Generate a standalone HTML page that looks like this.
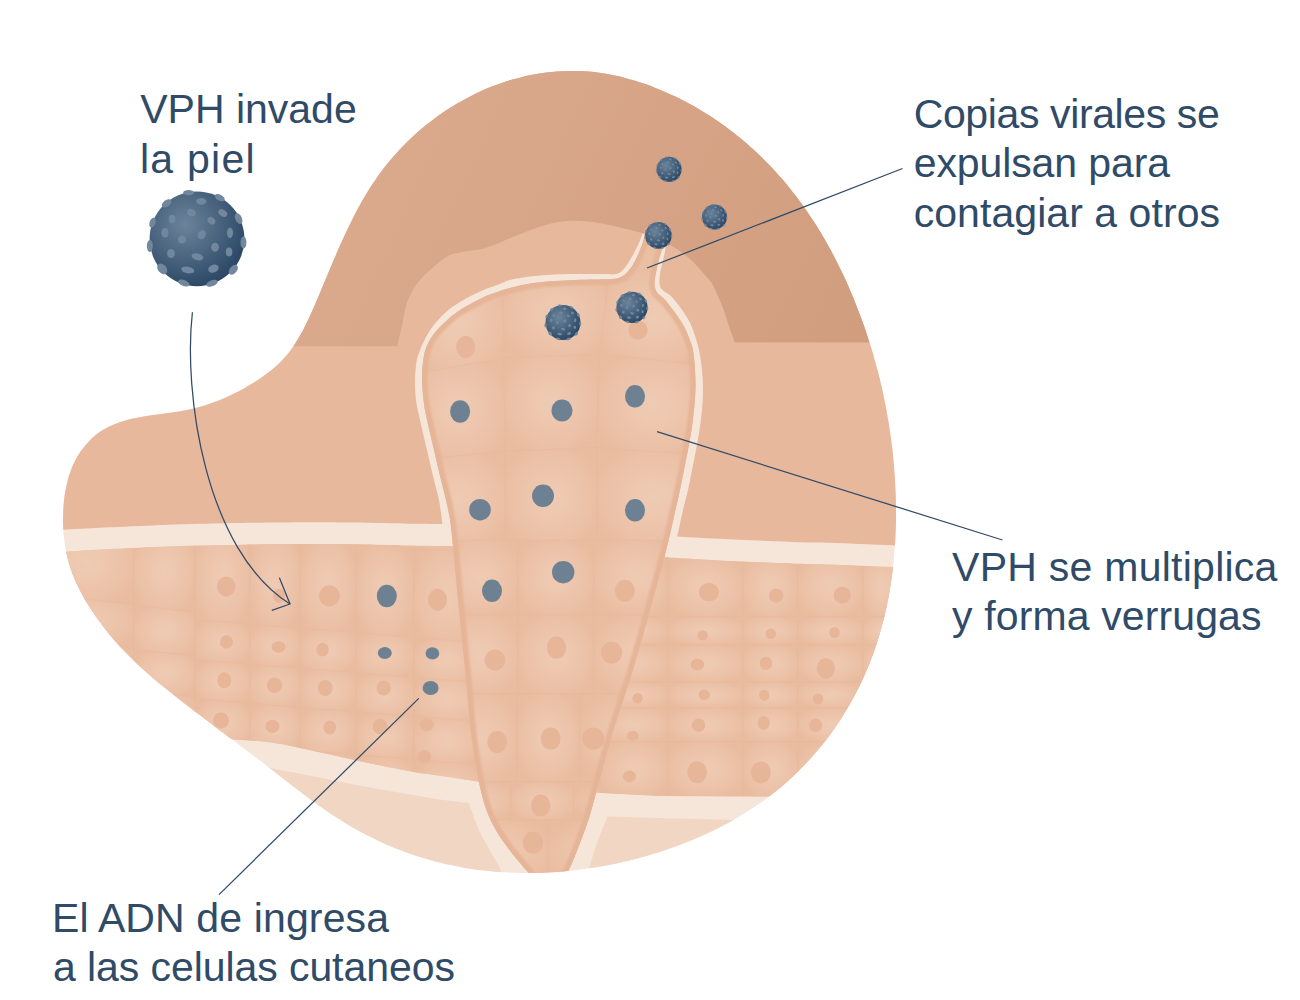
<!DOCTYPE html>
<html><head><meta charset="utf-8"><style>
html,body{margin:0;padding:0;background:#fff;}
svg{display:block;}
text{font-family:"Liberation Sans",sans-serif;font-size:41px;fill:#2F4B67;}
</style></head><body>
<svg width="1300" height="1000" viewBox="0 0 1300 1000">
<defs>
<clipPath id="blob"><path d="M500.4,83.4 C503.7,82.2 507.1,81.1 510.5,80.1 C513.8,79.1 517.2,78.2 520.7,77.4 C524.1,76.5 527.5,75.8 531,75.1 C534.4,74.4 537.9,73.8 541.4,73.3 C544.8,72.8 548.3,72.3 551.8,72 C555.3,71.6 558.8,71.4 562.3,71.2 C565.8,71.1 569.3,71 572.8,71 C576.3,71 579.9,71.1 583.4,71.3 C586.9,71.5 590.4,71.8 593.9,72.1 C597.3,72.5 600.8,73 604.3,73.5 C607.8,74.1 611.3,74.8 614.7,75.5 C618.2,76.2 621.6,77 625,77.9 C628.4,78.8 631.9,79.8 635.2,80.8 C638.6,81.9 642,83 645.3,84.1 C648.7,85.3 652,86.6 655.3,87.9 C658.6,89.2 661.9,90.5 665.1,91.9 C668.4,93.3 671.6,94.8 674.8,96.3 C678,97.9 681.1,99.4 684.3,101.1 C687.4,102.7 690.5,104.4 693.6,106.1 C696.7,107.9 699.7,109.6 702.7,111.5 C705.7,113.3 708.7,115.2 711.7,117.1 C714.6,119.1 717.5,121 720.4,123.1 C723.3,125.1 726.1,127.2 729,129.3 C731.8,131.4 734.6,133.6 737.3,135.8 C740.1,138 742.8,140.2 745.5,142.5 C748.1,144.8 750.8,147.1 753.4,149.5 C756,151.9 758.5,154.3 761.1,156.8 C763.6,159.2 766.1,161.7 768.6,164.2 C771,166.8 773.4,169.3 775.8,171.9 C778.2,174.5 780.5,177.2 782.8,179.8 C785.1,182.5 787.3,185.2 789.6,187.9 C791.8,190.7 793.9,193.4 796.1,196.2 C798.2,199 800.3,201.9 802.4,204.7 C804.4,207.6 806.4,210.5 808.4,213.4 C810.4,216.3 812.3,219.3 814.3,222.2 C816.2,225.2 818,228.2 819.9,231.2 C821.7,234.2 823.5,237.3 825.2,240.3 C827,243.4 828.7,246.5 830.4,249.6 C832.1,252.7 833.8,255.8 835.4,259 C837,262.1 838.6,265.3 840.1,268.5 C841.7,271.6 843.2,274.8 844.7,278.1 C846.2,281.3 847.6,284.5 849,287.7 C850.4,291 851.8,294.2 853.2,297.5 C854.5,300.8 855.8,304.1 857.1,307.4 C858.4,310.7 859.7,314 860.9,317.3 C862.1,320.6 863.3,323.9 864.5,327.2 C865.6,330.6 866.7,333.9 867.8,337.2 C868.9,340.6 870,344 871,347.3 C872.1,350.7 873.1,354.1 874,357.4 C875,360.8 875.9,364.2 876.8,367.6 C877.8,371 878.6,374.4 879.5,377.8 C880.3,381.2 881.1,384.7 881.9,388.1 C882.7,391.5 883.4,394.9 884.1,398.4 C884.9,401.8 885.5,405.3 886.2,408.7 C886.8,412.2 887.5,415.6 888,419.1 C888.6,422.6 889.2,426.1 889.7,429.5 C890.2,433 890.7,436.5 891.2,440 C891.6,443.5 892.1,447 892.5,450.5 C892.9,454 893.2,457.5 893.5,461 C893.9,464.5 894.2,468 894.4,471.6 C894.7,475.1 894.9,478.6 895.1,482.1 C895.3,485.7 895.5,489.2 895.6,492.8 C895.8,496.3 895.9,499.8 895.9,503.4 C896,506.9 896,510.5 896,514 C896,517.6 896,521.1 895.9,524.7 C895.8,528.2 895.7,531.7 895.5,535.3 C895.4,538.8 895.2,542.4 894.9,545.9 C894.7,549.4 894.4,553 894.1,556.5 C893.8,560 893.4,563.5 893,567.1 C892.6,570.6 892.2,574.1 891.7,577.6 C891.2,581.1 890.7,584.6 890.1,588 C889.5,591.5 888.9,595 888.3,598.5 C887.6,601.9 886.9,605.4 886.1,608.8 C885.4,612.3 884.6,615.7 883.7,619.1 C882.9,622.5 882,625.9 881,629.3 C880.1,632.7 879.1,636 878,639.4 C877,642.7 875.9,646.1 874.7,649.4 C873.6,652.7 872.4,656 871.1,659.3 C869.9,662.6 868.6,665.8 867.2,669.1 C865.8,672.3 864.4,675.5 862.9,678.7 C861.5,681.9 859.9,685.1 858.4,688.2 C856.8,691.4 855.1,694.5 853.5,697.6 C851.8,700.7 850,703.8 848.3,706.8 C846.5,709.9 844.6,712.9 842.8,715.9 C840.9,718.9 838.9,721.8 837,724.7 C835,727.7 832.9,730.6 830.9,733.4 C828.8,736.3 826.6,739.1 824.5,741.9 C822.3,744.6 820.1,747.4 817.8,750.1 C815.5,752.8 813.2,755.5 810.9,758.1 C808.5,760.7 806.1,763.3 803.7,765.8 C801.2,768.4 798.7,770.9 796.2,773.3 C793.7,775.8 791.1,778.2 788.5,780.6 C785.9,782.9 783.2,785.2 780.5,787.5 C777.8,789.8 775.1,792 772.3,794.1 C769.5,796.3 766.7,798.4 763.9,800.5 C761,802.6 758.1,804.6 755.2,806.6 C752.3,808.5 749.3,810.4 746.3,812.3 C743.3,814.2 740.3,816 737.3,817.8 C734.2,819.6 731.1,821.3 728,823 C724.9,824.7 721.8,826.4 718.7,828 C715.5,829.6 712.3,831.1 709.1,832.6 C705.9,834.1 702.7,835.6 699.4,837 C696.2,838.4 692.9,839.8 689.6,841.1 C686.4,842.5 683.1,843.8 679.7,845 C676.4,846.3 673.1,847.5 669.7,848.6 C666.4,849.8 663,850.9 659.7,852 C656.3,853.1 652.9,854.1 649.5,855.1 C646.1,856.1 642.7,857 639.3,858 C635.9,858.9 632.5,859.7 629.1,860.6 C625.7,861.4 622.2,862.2 618.8,863 C615.4,863.7 611.9,864.4 608.5,865.1 C605.1,865.8 601.6,866.4 598.1,867 C594.7,867.6 591.2,868.1 587.8,868.6 C584.3,869.1 580.8,869.6 577.3,870 C573.9,870.4 570.4,870.8 566.9,871.1 C563.4,871.4 559.9,871.7 556.4,872 C552.9,872.2 549.4,872.4 545.9,872.5 C542.4,872.7 538.8,872.8 535.3,872.9 C531.8,872.9 528.3,872.9 524.7,872.9 C521.2,872.9 517.7,872.8 514.1,872.7 C510.6,872.6 507,872.4 503.5,872.2 C500,871.9 496.4,871.7 492.9,871.4 C489.3,871.1 485.8,870.7 482.3,870.3 C478.8,869.9 475.2,869.4 471.7,868.9 C468.2,868.4 464.7,867.8 461.2,867.2 C457.7,866.5 454.2,865.9 450.8,865.1 C447.3,864.4 443.9,863.6 440.4,862.8 C437,862 433.6,861.1 430.2,860.1 C426.8,859.2 423.4,858.2 420,857.1 C416.7,856 413.3,854.9 410,853.8 C406.7,852.6 403.4,851.4 400.1,850.1 C396.8,848.9 393.6,847.5 390.3,846.2 C387.1,844.8 383.9,843.4 380.7,841.9 C377.5,840.4 374.3,838.9 371.2,837.3 C368,835.8 364.9,834.2 361.8,832.5 C358.7,830.8 355.6,829.1 352.6,827.4 C349.5,825.6 346.5,823.8 343.5,822 C340.5,820.1 337.6,818.2 334.6,816.3 C331.7,814.4 328.8,812.4 325.8,810.4 C322.9,808.4 320.1,806.4 317.2,804.3 C314.3,802.2 311.5,800.1 308.6,798 C305.8,795.9 303,793.8 300.2,791.7 C297.3,789.5 294.5,787.4 291.7,785.2 C288.9,783 286.1,780.9 283.4,778.7 C280.6,776.5 277.8,774.3 275,772.2 C272.2,770 269.4,767.8 266.6,765.7 C263.8,763.5 261,761.4 258.2,759.3 C255.4,757.1 252.6,755 249.8,752.9 C246.9,750.7 244.1,748.6 241.3,746.5 C238.5,744.4 235.7,742.2 232.9,740.1 C230.1,738 227.3,735.9 224.5,733.8 C221.6,731.6 218.8,729.5 216,727.4 C213.2,725.3 210.4,723.2 207.6,721 C204.8,718.9 202,716.8 199.2,714.6 C196.4,712.5 193.6,710.4 190.8,708.2 C188,706.1 185.2,703.9 182.4,701.7 C179.6,699.6 176.8,697.4 174.1,695.2 C171.3,693 168.5,690.8 165.8,688.6 C163.1,686.4 160.3,684.1 157.6,681.9 C154.9,679.6 152.2,677.3 149.6,675 C146.9,672.7 144.3,670.3 141.7,668 C139.1,665.6 136.5,663.2 134,660.7 C131.4,658.3 128.9,655.8 126.5,653.3 C124,650.8 121.6,648.3 119.2,645.7 C116.8,643.1 114.5,640.4 112.2,637.7 C109.9,635 107.7,632.3 105.5,629.5 C103.3,626.8 101.2,623.9 99.1,621.1 C97,618.2 95,615.3 93,612.3 C91,609.4 89.1,606.4 87.3,603.4 C85.4,600.4 83.6,597.3 82,594.2 C80.3,591.1 78.7,588 77.2,584.8 C75.7,581.6 74.3,578.4 73,575.2 C71.7,571.9 70.6,568.6 69.6,565.3 C68.5,562 67.6,558.6 66.9,555.2 C66.1,551.9 65.4,548.4 64.9,545 C64.3,541.5 63.9,538.1 63.6,534.6 C63.3,531.1 63.1,527.5 63,524 C62.9,520.4 63,516.9 63.1,513.3 C63.2,509.7 63.5,506.1 63.8,502.5 C64.2,498.9 64.6,495.2 65.2,491.7 C65.9,488.1 66.6,484.5 67.5,481.1 C68.4,477.6 69.4,474.1 70.7,470.8 C71.9,467.5 73.3,464.2 74.9,461.1 C76.5,457.9 78.2,454.9 80.2,452 C82.1,449.2 84.3,446.4 86.6,443.9 C88.8,441.3 91.3,438.9 93.9,436.6 C96.4,434.4 99.2,432.4 102,430.6 C104.9,428.7 107.9,427.1 110.9,425.7 C114,424.3 117.2,423.1 120.5,422 C123.7,420.9 127.1,420 130.5,419.1 C133.9,418.3 137.4,417.6 141,417 C144.5,416.3 148.1,415.8 151.7,415.3 C155.2,414.7 158.9,414.3 162.5,413.8 C166.1,413.3 169.7,412.8 173.3,412.3 C176.9,411.7 180.5,411.2 184,410.5 C187.5,409.9 191,409.2 194.4,408.3 C197.9,407.5 201.2,406.5 204.6,405.5 C207.9,404.5 211.2,403.3 214.4,402.1 C217.7,400.9 220.9,399.6 224.1,398.2 C227.3,396.8 230.4,395.3 233.6,393.8 C236.7,392.2 239.8,390.6 243,388.9 C246.1,387.2 249.2,385.4 252.2,383.5 C255.3,381.6 258.3,379.7 261.2,377.7 C264.2,375.6 267.1,373.5 269.9,371.3 C272.6,369.1 275.3,366.8 277.9,364.4 C280.4,362 282.9,359.4 285.2,356.8 C287.5,354.2 289.6,351.5 291.7,348.7 C293.7,345.9 295.6,343 297.4,340 C299.2,337.1 300.9,334 302.6,331 C304.2,327.9 305.8,324.7 307.3,321.6 C308.8,318.4 310.3,315.2 311.7,311.9 C313.2,308.7 314.6,305.5 316,302.2 C317.4,299 318.8,295.7 320.1,292.4 C321.5,289.2 322.9,285.9 324.3,282.6 C325.6,279.4 327,276.1 328.4,272.8 C329.7,269.6 331.1,266.3 332.5,263 C333.9,259.8 335.3,256.5 336.7,253.3 C338.1,250 339.5,246.8 340.9,243.6 C342.4,240.3 343.8,237.1 345.3,233.9 C346.8,230.7 348.3,227.5 349.9,224.4 C351.4,221.2 353,218.1 354.6,215 C356.2,211.8 357.9,208.7 359.5,205.7 C361.2,202.6 363,199.6 364.8,196.6 C366.5,193.5 368.4,190.6 370.3,187.6 C372.1,184.7 374.1,181.7 376.1,178.9 C378.1,176 380.1,173.1 382.3,170.3 C384.4,167.5 386.6,164.8 388.8,162.1 C391,159.3 393.3,156.7 395.7,154 C398.1,151.4 400.5,148.8 402.9,146.3 C405.4,143.7 407.9,141.2 410.5,138.8 C413.1,136.4 415.7,134 418.4,131.6 C421,129.3 423.8,127 426.5,124.8 C429.3,122.5 432.1,120.4 435,118.3 C437.8,116.1 440.7,114.1 443.7,112.1 C446.6,110.1 449.6,108.2 452.6,106.3 C455.6,104.4 458.7,102.6 461.8,100.9 C464.8,99.1 468,97.5 471.1,95.9 C474.3,94.3 477.5,92.7 480.7,91.3 C483.9,89.8 487.2,88.4 490.5,87.1 C493.7,85.8 497.1,84.6 500.4,83.4Z"/></clipPath>
<clipPath id="cone"><path d="M453,546 C451.7,532.7 451.2,527.7 450,520 C448.8,512.3 447.5,506.7 446,500 C444.5,493.3 443,488.3 441,480 C439,471.7 436.3,460 434,450 C431.7,440 428.8,428.3 427,420 C425.2,411.7 424.3,406.7 423.5,400 C422.7,393.3 422.1,386.3 422,380 C421.9,373.7 422.3,367.3 423,362 C423.7,356.7 424.3,352.5 426,348 C427.7,343.5 429.8,339.3 433,335 C436.2,330.7 440.5,326.2 445,322 C449.5,317.8 454.2,313.8 460,310 C465.8,306.2 475,301.6 480,299 C485,296.4 485,296.3 490,294.5 C495,292.7 503.3,289.8 510,288 C516.7,286.2 523.3,284.6 530,283.5 C536.7,282.4 543.3,281.8 550,281.2 C556.7,280.6 563.3,280.5 570,280.2 C576.7,279.9 583,279.8 590,279.6 C597,279.4 607,279.4 612,279 C617,278.6 617.5,278.6 620,277.5 C622.5,276.4 624.6,275.1 627,272.5 C629.4,269.9 632.2,265.9 634.4,262 C636.6,258.1 638.8,252.8 640.4,248.8 C642,244.8 643.1,241.5 644,238 C644.9,234.5 643.2,229.7 646,228 C648.8,226.3 658.3,224.7 661,228 C663.7,231.3 662.3,242.3 662,247.6 C661.7,252.9 660,255.4 659,259.6 C658,263.8 656.8,268.7 656,272.8 C655.2,276.9 654.3,280.7 654.5,284 C654.7,287.3 655.4,290 657,292.5 C658.6,295 661.6,296.1 664.4,299.2 C667.2,302.3 670.8,306.8 674,311.2 C677.2,315.6 681.1,321.1 683.6,325.6 C686.1,330.1 687.4,333.9 689,338 C690.6,342.1 692,344.7 693,350 C694,355.3 694.6,363.3 695,370 C695.4,376.7 695.7,383.3 695.5,390 C695.3,396.7 694.7,403.3 694,410 C693.3,416.7 692.5,423.3 691.5,430 C690.5,436.7 689.2,443.3 688,450 C686.8,456.7 685.3,463.3 684,470 C682.7,476.7 681.4,483.3 680,490 C678.6,496.7 677,503.3 675.5,510 C674,516.7 672.9,522.1 671,530 C669.1,537.9 667,547.2 664.4,557.2 C661.8,567.2 658.7,578.7 655.6,590 C652.5,601.3 649.8,611.7 646,625 C642.2,638.3 637.3,655.8 633,670 C628.7,684.2 624,697.4 620,710 C616,722.6 612.2,734.4 609,745.4 C605.8,756.4 603,767.6 600.8,775.8 C598.6,784 597.7,787.5 595.7,794.5 C593.7,801.5 591.5,810.1 589,818 C586.5,825.9 583.9,833 580.5,841.8 C577.1,850.6 572,864.2 568.6,870.6 C565.2,877 565.6,878.4 560,880 C554.4,881.6 540.3,881.3 535,880 C529.7,878.7 532,877 528,872.3 C524,867.6 516.4,859 511,852 C505.6,845 500,837.3 495.8,830 C491.6,822.7 488.5,815.9 485.7,808 C482.9,800.1 481,791.6 479,782.6 C477,773.6 475.4,764.2 473.8,753.8 C472.2,743.4 470.9,732.3 469.6,720 C468.3,707.7 467.3,693.3 466,680 C464.7,666.7 463.3,653.3 462,640 C460.7,626.7 459.5,615.7 458,600 C456.5,584.3 454.3,559.3 453,546Z"/></clipPath>
<linearGradient id="dg" x1="300" y1="80" x2="870" y2="345" gradientUnits="userSpaceOnUse">
<stop offset="0" stop-color="#DCAB8E"/><stop offset="1" stop-color="#D19D7F"/></linearGradient>
<radialGradient id="cg" cx="0.5" cy="0.5" r="0.6">
<stop offset="0" stop-color="#EFCBB4"/><stop offset="0.6" stop-color="#ECC3A9"/><stop offset="1" stop-color="#E9BB9F"/></radialGradient>
<radialGradient id="vg" cx="-0.25" cy="-0.3" r="1.35" gradientUnits="userSpaceOnUse">
<stop offset="0" stop-color="#6C849B"/><stop offset="1" stop-color="#2C4866"/></radialGradient>
<filter id="bl" x="-5%" y="-5%" width="110%" height="110%"><feGaussianBlur stdDeviation="1.2"/></filter>
<g id="virus"><circle cx="0" cy="0" r="1" fill="url(#vg)"/><ellipse cx="-0.177" cy="-0.975" rx="0.114" ry="0.057" transform="rotate(0 -0.177 -0.975)" fill="#70879D"/><ellipse cx="0.481" cy="-0.866" rx="0.114" ry="0.063" transform="rotate(30 0.481 -0.866)" fill="#70879D"/><ellipse cx="-0.641" cy="-0.747" rx="0.114" ry="0.070" transform="rotate(-35 -0.641 -0.747)" fill="#70879D"/><ellipse cx="0.878" cy="-0.425" rx="0.070" ry="0.120" transform="rotate(-25 0.878 -0.425)" fill="#70879D"/><ellipse cx="-0.937" cy="-0.342" rx="0.063" ry="0.108" transform="rotate(20 -0.937 -0.342)" fill="#70879D"/><ellipse cx="0.980" cy="0.076" rx="0.063" ry="0.127" transform="rotate(0 0.980 0.076)" fill="#70879D"/><ellipse cx="-0.995" cy="0.152" rx="0.063" ry="0.127" transform="rotate(0 -0.995 0.152)" fill="#70879D"/><ellipse cx="0.767" cy="0.653" rx="0.076" ry="0.120" transform="rotate(40 0.767 0.653)" fill="#70879D"/><ellipse cx="-0.734" cy="0.633" rx="0.089" ry="0.127" transform="rotate(-40 -0.734 0.633)" fill="#70879D"/><ellipse cx="0.316" cy="0.937" rx="0.127" ry="0.063" transform="rotate(-20 0.316 0.937)" fill="#70879D"/><ellipse cx="-0.278" cy="0.932" rx="0.127" ry="0.063" transform="rotate(20 -0.278 0.932)" fill="#70879D"/><ellipse cx="0.089" cy="-0.790" rx="0.108" ry="0.070" transform="rotate(0 0.089 -0.790)" fill="#70879D"/><ellipse cx="-0.119" cy="-0.552" rx="0.095" ry="0.076" transform="rotate(20 -0.119 -0.552)" fill="#70879D"/><ellipse cx="0.544" cy="-0.544" rx="0.101" ry="0.070" transform="rotate(30 0.544 -0.544)" fill="#70879D"/><ellipse cx="-0.524" cy="-0.418" rx="0.070" ry="0.089" transform="rotate(0 -0.524 -0.418)" fill="#70879D"/><ellipse cx="0.304" cy="-0.380" rx="0.089" ry="0.070" transform="rotate(40 0.304 -0.380)" fill="#70879D"/><ellipse cx="0.696" cy="-0.127" rx="0.063" ry="0.114" transform="rotate(0 0.696 -0.127)" fill="#70879D"/><ellipse cx="-0.676" cy="-0.127" rx="0.076" ry="0.101" transform="rotate(0 -0.676 -0.127)" fill="#70879D"/><ellipse cx="0.101" cy="-0.089" rx="0.082" ry="0.101" transform="rotate(30 0.101 -0.089)" fill="#70879D"/><ellipse cx="-0.316" cy="0.013" rx="0.082" ry="0.082" transform="rotate(0 -0.316 0.013)" fill="#70879D"/><ellipse cx="0.380" cy="0.177" rx="0.082" ry="0.095" transform="rotate(0 0.380 0.177)" fill="#70879D"/><ellipse cx="0.676" cy="0.278" rx="0.070" ry="0.095" transform="rotate(0 0.676 0.278)" fill="#70879D"/><ellipse cx="-0.549" cy="0.309" rx="0.082" ry="0.095" transform="rotate(0 -0.549 0.309)" fill="#70879D"/><ellipse cx="0.008" cy="0.380" rx="0.127" ry="0.070" transform="rotate(15 0.008 0.380)" fill="#70879D"/><ellipse cx="0.347" cy="0.628" rx="0.114" ry="0.082" transform="rotate(-20 0.347 0.628)" fill="#70879D"/><ellipse cx="-0.195" cy="0.658" rx="0.139" ry="0.070" transform="rotate(10 -0.195 0.658)" fill="#70879D"/></g>
</defs>
<g clip-path="url(#blob)">
<rect x="0" y="0" width="1000" height="1000" fill="#F6E6DA"/>
<path d="M0,740 L230,760 C236.7,761.3 255.2,765.1 270,768 C284.8,770.9 302.7,774.2 318.5,777.3 C334.3,780.4 349.2,783.6 364.6,786.5 C380,789.4 398.2,792.4 410.8,794.6 C423.4,796.8 430.3,798.1 440,799.5 C449.7,800.9 464,802.4 468.8,803 C470.5,807.5 475.3,821.8 479,830 C482.7,838.2 487.1,845.2 490.8,852 C494.5,858.8 498.5,864.3 501,870.6 C503.5,876.9 505.2,886.8 506,890 L506,1000 L0,1000Z" fill="#F1D7C3"/>
<path d="M607.5,816.5 L660,818 L735,820 L1000,822 L1000,1000 L585,1000 L585,885 C585.7,882.3 586.9,876.2 589,869 C591.1,861.8 594.3,850.5 597.4,841.8 C600.5,833 605.8,820.7 607.5,816.5Z" fill="#F1D7C3"/>
<clipPath id="cl"><path d="M0,554 L30,554 C35.8,553.6 53.3,552.5 65,551.8 C76.7,551 87.5,550.2 100,549.5 C112.5,548.8 123.3,548.4 140,547.7 C156.7,547.1 176.7,546.2 200,545.6 C223.3,545 256.7,544.4 280,544.1 C303.3,543.9 316.7,543.9 340,544.1 C363.3,544.4 401.2,545.3 420,545.6 C438.8,545.9 447.5,545.9 453,546 L664.4,557.2 C673.7,557.7 697.4,559.3 720,560.4 C742.6,561.5 781.7,563.1 800,563.8 C818.3,564.5 813.3,563.8 830,564.4 C846.7,565 871.7,566.3 900,567.2 C928.3,568.1 983.3,569.5 1000,570 L1000,797.5 L660,796 L595.7,792.8 L479,781.8 C472.5,780.8 451.4,777.5 440,775.8 C428.6,774.1 423.4,773.8 410.8,771.5 C398.2,769.2 380,765.5 364.6,762.3 C349.2,759 333.9,755.3 318.5,752 C303.1,748.7 286.9,744.8 272.3,742.7 C257.7,740.6 242.9,740.2 230.8,739.2 C218.8,738.2 205.1,737.4 200,737 L0,720Z"/></clipPath>
<g clip-path="url(#cl)">
<path d="M0,554 L30,554 C35.8,553.6 53.3,552.5 65,551.8 C76.7,551 87.5,550.2 100,549.5 C112.5,548.8 123.3,548.4 140,547.7 C156.7,547.1 176.7,546.2 200,545.6 C223.3,545 256.7,544.4 280,544.1 C303.3,543.9 316.7,543.9 340,544.1 C363.3,544.4 401.2,545.3 420,545.6 C438.8,545.9 447.5,545.9 453,546 L664.4,557.2 C673.7,557.7 697.4,559.3 720,560.4 C742.6,561.5 781.7,563.1 800,563.8 C818.3,564.5 813.3,563.8 830,564.4 C846.7,565 871.7,566.3 900,567.2 C928.3,568.1 983.3,569.5 1000,570 L1000,797.5 L660,796 L595.7,792.8 L479,781.8 C472.5,780.8 451.4,777.5 440,775.8 C428.6,774.1 423.4,773.8 410.8,771.5 C398.2,769.2 380,765.5 364.6,762.3 C349.2,759 333.9,755.3 318.5,752 C303.1,748.7 286.9,744.8 272.3,742.7 C257.7,740.6 242.9,740.2 230.8,739.2 C218.8,738.2 205.1,737.4 200,737 L0,720Z" fill="#EBBFA4"/>
<path d="M40,518.8 L134,530.1 L134,605.1 L40,593.8Z" fill="url(#cg)" stroke="#E8B99D" stroke-width="1" stroke-opacity="0.4"/><path d="M40,593.8 L134,605.1 L134,649.1 L40,637.8Z" fill="url(#cg)" stroke="#E8B99D" stroke-width="1" stroke-opacity="0.4"/><path d="M40,637.8 L134,649.1 L134,690.1 L40,678.8Z" fill="url(#cg)" stroke="#E8B99D" stroke-width="1" stroke-opacity="0.4"/><path d="M40,678.8 L134,690.1 L134,733.1 L40,721.8Z" fill="url(#cg)" stroke="#E8B99D" stroke-width="1" stroke-opacity="0.4"/><path d="M40,721.8 L134,733.1 L134,800.1 L40,788.8Z" fill="url(#cg)" stroke="#E8B99D" stroke-width="1" stroke-opacity="0.4"/><path d="M134,530.1 L195,537.4 L195,612.4 L134,605.1Z" fill="url(#cg)" stroke="#E8B99D" stroke-width="1" stroke-opacity="0.4"/><path d="M134,605.1 L195,612.4 L195,656.4 L134,649.1Z" fill="url(#cg)" stroke="#E8B99D" stroke-width="1" stroke-opacity="0.4"/><path d="M134,649.1 L195,656.4 L195,697.4 L134,690.1Z" fill="url(#cg)" stroke="#E8B99D" stroke-width="1" stroke-opacity="0.4"/><path d="M134,690.1 L195,697.4 L195,740.4 L134,733.1Z" fill="url(#cg)" stroke="#E8B99D" stroke-width="1" stroke-opacity="0.4"/><path d="M134,733.1 L195,740.4 L195,807.4 L134,800.1Z" fill="url(#cg)" stroke="#E8B99D" stroke-width="1" stroke-opacity="0.4"/><path d="M195,530 L250,534.4 L250,624.4 L195,620Z" fill="url(#cg)" stroke="#E8B99D" stroke-width="1" stroke-opacity="0.4"/><path d="M195,620 L250,624.4 L250,664.4 L195,660Z" fill="url(#cg)" stroke="#E8B99D" stroke-width="1" stroke-opacity="0.4"/><path d="M195,660 L250,664.4 L250,703.4 L195,699Z" fill="url(#cg)" stroke="#E8B99D" stroke-width="1" stroke-opacity="0.4"/><path d="M195,699 L250,703.4 L250,746.4 L195,742Z" fill="url(#cg)" stroke="#E8B99D" stroke-width="1" stroke-opacity="0.4"/><path d="M195,742 L250,746.4 L250,804.4 L195,800Z" fill="url(#cg)" stroke="#E8B99D" stroke-width="1" stroke-opacity="0.4"/><path d="M250,534.4 L300,538.4 L300,628.4 L250,624.4Z" fill="url(#cg)" stroke="#E8B99D" stroke-width="1" stroke-opacity="0.4"/><path d="M250,624.4 L300,628.4 L300,668.4 L250,664.4Z" fill="url(#cg)" stroke="#E8B99D" stroke-width="1" stroke-opacity="0.4"/><path d="M250,664.4 L300,668.4 L300,707.4 L250,703.4Z" fill="url(#cg)" stroke="#E8B99D" stroke-width="1" stroke-opacity="0.4"/><path d="M250,703.4 L300,707.4 L300,750.4 L250,746.4Z" fill="url(#cg)" stroke="#E8B99D" stroke-width="1" stroke-opacity="0.4"/><path d="M250,746.4 L300,750.4 L300,808.4 L250,804.4Z" fill="url(#cg)" stroke="#E8B99D" stroke-width="1" stroke-opacity="0.4"/><path d="M300,538.4 L356,542.9 L356,632.9 L300,628.4Z" fill="url(#cg)" stroke="#E8B99D" stroke-width="1" stroke-opacity="0.4"/><path d="M300,628.4 L356,632.9 L356,672.9 L300,668.4Z" fill="url(#cg)" stroke="#E8B99D" stroke-width="1" stroke-opacity="0.4"/><path d="M300,668.4 L356,672.9 L356,711.9 L300,707.4Z" fill="url(#cg)" stroke="#E8B99D" stroke-width="1" stroke-opacity="0.4"/><path d="M300,707.4 L356,711.9 L356,754.9 L300,750.4Z" fill="url(#cg)" stroke="#E8B99D" stroke-width="1" stroke-opacity="0.4"/><path d="M300,750.4 L356,754.9 L356,812.9 L300,808.4Z" fill="url(#cg)" stroke="#E8B99D" stroke-width="1" stroke-opacity="0.4"/><path d="M356,542.9 L414,547.5 L414,637.5 L356,632.9Z" fill="url(#cg)" stroke="#E8B99D" stroke-width="1" stroke-opacity="0.4"/><path d="M356,632.9 L414,637.5 L414,677.5 L356,672.9Z" fill="url(#cg)" stroke="#E8B99D" stroke-width="1" stroke-opacity="0.4"/><path d="M356,672.9 L414,677.5 L414,716.5 L356,711.9Z" fill="url(#cg)" stroke="#E8B99D" stroke-width="1" stroke-opacity="0.4"/><path d="M356,711.9 L414,716.5 L414,759.5 L356,754.9Z" fill="url(#cg)" stroke="#E8B99D" stroke-width="1" stroke-opacity="0.4"/><path d="M356,754.9 L414,759.5 L414,817.5 L356,812.9Z" fill="url(#cg)" stroke="#E8B99D" stroke-width="1" stroke-opacity="0.4"/><path d="M414,547.5 L480,552.8 L480,642.8 L414,637.5Z" fill="url(#cg)" stroke="#E8B99D" stroke-width="1" stroke-opacity="0.4"/><path d="M414,637.5 L480,642.8 L480,682.8 L414,677.5Z" fill="url(#cg)" stroke="#E8B99D" stroke-width="1" stroke-opacity="0.4"/><path d="M414,677.5 L480,682.8 L480,721.8 L414,716.5Z" fill="url(#cg)" stroke="#E8B99D" stroke-width="1" stroke-opacity="0.4"/><path d="M414,716.5 L480,721.8 L480,764.8 L414,759.5Z" fill="url(#cg)" stroke="#E8B99D" stroke-width="1" stroke-opacity="0.4"/><path d="M414,759.5 L480,764.8 L480,822.8 L414,817.5Z" fill="url(#cg)" stroke="#E8B99D" stroke-width="1" stroke-opacity="0.4"/><rect x="600" y="557" width="68" height="60" fill="url(#cg)" stroke="#E8B99D" stroke-width="1" stroke-opacity="0.4"/><rect x="668" y="557" width="75" height="60" fill="url(#cg)" stroke="#E8B99D" stroke-width="1" stroke-opacity="0.4"/><rect x="743" y="557" width="55" height="60" fill="url(#cg)" stroke="#E8B99D" stroke-width="1" stroke-opacity="0.4"/><rect x="798" y="557" width="65" height="60" fill="url(#cg)" stroke="#E8B99D" stroke-width="1" stroke-opacity="0.4"/><rect x="863" y="557" width="37" height="60" fill="url(#cg)" stroke="#E8B99D" stroke-width="1" stroke-opacity="0.4"/><rect x="600" y="617" width="68" height="28" fill="url(#cg)" stroke="#E8B99D" stroke-width="1" stroke-opacity="0.4"/><rect x="668" y="617" width="75" height="28" fill="url(#cg)" stroke="#E8B99D" stroke-width="1" stroke-opacity="0.4"/><rect x="743" y="617" width="55" height="28" fill="url(#cg)" stroke="#E8B99D" stroke-width="1" stroke-opacity="0.4"/><rect x="798" y="617" width="65" height="28" fill="url(#cg)" stroke="#E8B99D" stroke-width="1" stroke-opacity="0.4"/><rect x="863" y="617" width="37" height="28" fill="url(#cg)" stroke="#E8B99D" stroke-width="1" stroke-opacity="0.4"/><rect x="600" y="645" width="68" height="37" fill="url(#cg)" stroke="#E8B99D" stroke-width="1" stroke-opacity="0.4"/><rect x="668" y="645" width="75" height="37" fill="url(#cg)" stroke="#E8B99D" stroke-width="1" stroke-opacity="0.4"/><rect x="743" y="645" width="55" height="37" fill="url(#cg)" stroke="#E8B99D" stroke-width="1" stroke-opacity="0.4"/><rect x="798" y="645" width="65" height="37" fill="url(#cg)" stroke="#E8B99D" stroke-width="1" stroke-opacity="0.4"/><rect x="863" y="645" width="37" height="37" fill="url(#cg)" stroke="#E8B99D" stroke-width="1" stroke-opacity="0.4"/><rect x="600" y="682" width="68" height="26" fill="url(#cg)" stroke="#E8B99D" stroke-width="1" stroke-opacity="0.4"/><rect x="668" y="682" width="75" height="26" fill="url(#cg)" stroke="#E8B99D" stroke-width="1" stroke-opacity="0.4"/><rect x="743" y="682" width="55" height="26" fill="url(#cg)" stroke="#E8B99D" stroke-width="1" stroke-opacity="0.4"/><rect x="798" y="682" width="65" height="26" fill="url(#cg)" stroke="#E8B99D" stroke-width="1" stroke-opacity="0.4"/><rect x="863" y="682" width="37" height="26" fill="url(#cg)" stroke="#E8B99D" stroke-width="1" stroke-opacity="0.4"/><rect x="600" y="708" width="68" height="34" fill="url(#cg)" stroke="#E8B99D" stroke-width="1" stroke-opacity="0.4"/><rect x="668" y="708" width="75" height="34" fill="url(#cg)" stroke="#E8B99D" stroke-width="1" stroke-opacity="0.4"/><rect x="743" y="708" width="55" height="34" fill="url(#cg)" stroke="#E8B99D" stroke-width="1" stroke-opacity="0.4"/><rect x="798" y="708" width="65" height="34" fill="url(#cg)" stroke="#E8B99D" stroke-width="1" stroke-opacity="0.4"/><rect x="863" y="708" width="37" height="34" fill="url(#cg)" stroke="#E8B99D" stroke-width="1" stroke-opacity="0.4"/><rect x="600" y="742" width="68" height="55" fill="url(#cg)" stroke="#E8B99D" stroke-width="1" stroke-opacity="0.4"/><rect x="668" y="742" width="75" height="55" fill="url(#cg)" stroke="#E8B99D" stroke-width="1" stroke-opacity="0.4"/><rect x="743" y="742" width="55" height="55" fill="url(#cg)" stroke="#E8B99D" stroke-width="1" stroke-opacity="0.4"/><rect x="798" y="742" width="65" height="55" fill="url(#cg)" stroke="#E8B99D" stroke-width="1" stroke-opacity="0.4"/><rect x="863" y="742" width="37" height="55" fill="url(#cg)" stroke="#E8B99D" stroke-width="1" stroke-opacity="0.4"/>
</g>
<path d="M0,532 L30,532 C35.5,531.6 51.3,530.5 63,529.8 C74.7,529.1 87.2,528.4 100,527.8 C112.8,527.2 123.3,526.7 140,526 C156.7,525.3 176.7,524.4 200,523.8 C223.3,523.2 256.7,522.7 280,522.5 C303.3,522.3 316.7,522.2 340,522.4 C363.3,522.6 402.9,523.5 420,523.8 C437.1,524.1 438.8,524 442.5,524 C441.9,520 440.4,507.3 439,500 C437.6,492.7 436,488.3 434,480 C432,471.7 429.3,460 427,450 C424.7,440 421.8,428.3 420,420 C418.2,411.7 416.8,406.7 416,400 C415.2,393.3 414.9,386.3 415,380 C415.1,373.7 415.8,366.5 416.5,362 C417.2,357.5 417.6,356.8 419,353 C420.4,349.2 422.7,343.5 425,339 C427.3,334.5 429.7,330.3 433,326 C436.3,321.7 440.5,317 445,313 C449.5,309 454.2,305.6 460,302 C465.8,298.4 473.3,294.5 480,291.5 C486.7,288.5 495,285.9 500,284 C505,282.1 505,281.2 510,280 C515,278.8 523.3,277.4 530,276.5 C536.7,275.6 543.3,275.2 550,274.8 C556.7,274.4 563.3,274.1 570,274 C576.7,273.9 583,273.9 590,274 C597,274.1 608.3,274.3 612,274.4 C613,274.2 616.2,274.2 618,273.5 C619.8,272.8 621.1,272.1 623,270 C624.9,267.9 627.3,264.5 629.6,260.8 C631.9,257.1 634.9,251.4 636.8,247.6 C638.7,243.8 640,240.6 641,238 C642,235.4 642.7,233 643,232 L666,232 C665.9,234.6 666.1,243 665.6,247.6 C665.1,252.2 664.1,255.4 663.2,259.6 C662.3,263.8 660.8,268.9 660.2,272.8 C659.6,276.7 659.2,280.2 659.5,283 C659.8,285.8 660,287.3 662,289.6 C664,291.9 668.4,293.6 671.6,296.8 C674.8,300 678.2,304.6 681.2,308.8 C684.2,313 687.5,318 689.6,322 C691.7,326 692.4,328.3 694,333 C695.6,337.7 697.7,343.8 699,350 C700.3,356.2 701.3,363.3 702,370 C702.7,376.7 703,383.3 703,390 C703,396.7 702.6,403.3 702,410 C701.4,416.7 700.5,423.3 699.5,430 C698.5,436.7 697.2,443.3 696,450 C694.8,456.7 693.3,463.3 692,470 C690.7,476.7 689.5,483.3 688,490 C686.5,496.7 684.8,502.3 683,510 C681.2,517.7 678.2,532 677.2,536.4 C684.3,536.8 699.5,537.8 720,538.8 C740.5,539.8 781.7,541.5 800,542.2 C818.3,542.9 813.3,542.2 830,542.8 C846.7,543.4 871.7,544.6 900,545.6 C928.3,546.6 983.3,548.4 1000,549 L1000,0 L0,0Z" fill="#E8B89C"/>
<path d="M0,0 L1000,0 L1000,342.4 L734.7,342.4 C734.2,340.9 732.7,337.3 731.4,333.6 C730.1,329.9 728.5,324.4 727,320 C725.5,315.6 724.3,311.3 722.6,307 C720.9,302.7 718.8,298 717,294 C715.2,290 713.8,286.3 711.6,283 C709.4,279.7 707.3,277.7 704,274 C700.7,270.3 696,264.6 692,260.8 C688,257 684,254 680,251.2 C676,248.4 673,246.5 668,244 C663,241.5 655,238 650,236 C645,234 644,233.7 638,232 C632,230.3 622,227.7 614,226 C606,224.3 597.7,222.6 590,221.8 C582.3,221 575.2,220.6 568,221 C560.8,221.4 553.7,222.8 547,224.5 C540.3,226.2 534.5,228.6 528,231 C521.5,233.4 514.3,236.4 508,239 C501.7,241.6 495.5,244.7 490,246.5 C484.5,248.3 479.8,249.2 475,250.1 C470.2,251 465.7,251.1 461,252.2 C456.3,253.2 452.2,253.4 447,256.4 C441.8,259.4 434.5,266.1 430,270 C425.5,273.9 422.8,276.7 420,280 C417.2,283.3 415,286.7 413,290 C411,293.3 409.3,296.7 408,300 C406.7,303.3 406,305.8 405,310 C404,314.2 403,321 402.2,325 C401.4,329 400.8,330.4 400,334 C399.2,337.6 397.8,344.2 397.3,346.3 L0,346.3Z" fill="url(#dg)"/>
<g clip-path="url(#cone)">
<path d="M453,546 C451.7,532.7 451.2,527.7 450,520 C448.8,512.3 447.5,506.7 446,500 C444.5,493.3 443,488.3 441,480 C439,471.7 436.3,460 434,450 C431.7,440 428.8,428.3 427,420 C425.2,411.7 424.3,406.7 423.5,400 C422.7,393.3 422.1,386.3 422,380 C421.9,373.7 422.3,367.3 423,362 C423.7,356.7 424.3,352.5 426,348 C427.7,343.5 429.8,339.3 433,335 C436.2,330.7 440.5,326.2 445,322 C449.5,317.8 454.2,313.8 460,310 C465.8,306.2 475,301.6 480,299 C485,296.4 485,296.3 490,294.5 C495,292.7 503.3,289.8 510,288 C516.7,286.2 523.3,284.6 530,283.5 C536.7,282.4 543.3,281.8 550,281.2 C556.7,280.6 563.3,280.5 570,280.2 C576.7,279.9 583,279.8 590,279.6 C597,279.4 607,279.4 612,279 C617,278.6 617.5,278.6 620,277.5 C622.5,276.4 624.6,275.1 627,272.5 C629.4,269.9 632.2,265.9 634.4,262 C636.6,258.1 638.8,252.8 640.4,248.8 C642,244.8 643.1,241.5 644,238 C644.9,234.5 643.2,229.7 646,228 C648.8,226.3 658.3,224.7 661,228 C663.7,231.3 662.3,242.3 662,247.6 C661.7,252.9 660,255.4 659,259.6 C658,263.8 656.8,268.7 656,272.8 C655.2,276.9 654.3,280.7 654.5,284 C654.7,287.3 655.4,290 657,292.5 C658.6,295 661.6,296.1 664.4,299.2 C667.2,302.3 670.8,306.8 674,311.2 C677.2,315.6 681.1,321.1 683.6,325.6 C686.1,330.1 687.4,333.9 689,338 C690.6,342.1 692,344.7 693,350 C694,355.3 694.6,363.3 695,370 C695.4,376.7 695.7,383.3 695.5,390 C695.3,396.7 694.7,403.3 694,410 C693.3,416.7 692.5,423.3 691.5,430 C690.5,436.7 689.2,443.3 688,450 C686.8,456.7 685.3,463.3 684,470 C682.7,476.7 681.4,483.3 680,490 C678.6,496.7 677,503.3 675.5,510 C674,516.7 672.9,522.1 671,530 C669.1,537.9 667,547.2 664.4,557.2 C661.8,567.2 658.7,578.7 655.6,590 C652.5,601.3 649.8,611.7 646,625 C642.2,638.3 637.3,655.8 633,670 C628.7,684.2 624,697.4 620,710 C616,722.6 612.2,734.4 609,745.4 C605.8,756.4 603,767.6 600.8,775.8 C598.6,784 597.7,787.5 595.7,794.5 C593.7,801.5 591.5,810.1 589,818 C586.5,825.9 583.9,833 580.5,841.8 C577.1,850.6 572,864.2 568.6,870.6 C565.2,877 565.6,878.4 560,880 C554.4,881.6 540.3,881.3 535,880 C529.7,878.7 532,877 528,872.3 C524,867.6 516.4,859 511,852 C505.6,845 500,837.3 495.8,830 C491.6,822.7 488.5,815.9 485.7,808 C482.9,800.1 481,791.6 479,782.6 C477,773.6 475.4,764.2 473.8,753.8 C472.2,743.4 470.9,732.3 469.6,720 C468.3,707.7 467.3,693.3 466,680 C464.7,666.7 463.3,653.3 462,640 C460.7,626.7 459.5,615.7 458,600 C456.5,584.3 454.3,559.3 453,546Z" fill="#EBBFA4"/>
<path d="M410,270 L503,270 L504,358 L410,375Z" fill="url(#cg)" stroke="#E8B99D" stroke-width="1" stroke-opacity="0.4"/><path d="M503,270 L610,270 L599,354 L504,358Z" fill="url(#cg)" stroke="#E8B99D" stroke-width="1" stroke-opacity="0.4"/><path d="M610,270 L710,270 L710,366 L599,354Z" fill="url(#cg)" stroke="#E8B99D" stroke-width="1" stroke-opacity="0.4"/><path d="M410,375 L504,358 L505,451 L410,461Z" fill="url(#cg)" stroke="#E8B99D" stroke-width="1" stroke-opacity="0.4"/><path d="M504,358 L599,354 L597,448 L505,451Z" fill="url(#cg)" stroke="#E8B99D" stroke-width="1" stroke-opacity="0.4"/><path d="M599,354 L710,366 L710,455 L597,448Z" fill="url(#cg)" stroke="#E8B99D" stroke-width="1" stroke-opacity="0.4"/><path d="M410,461 L505,451 L506,548 L410,548Z" fill="url(#cg)" stroke="#E8B99D" stroke-width="1" stroke-opacity="0.4"/><path d="M505,451 L597,448 L597,548 L506,548Z" fill="url(#cg)" stroke="#E8B99D" stroke-width="1" stroke-opacity="0.4"/><path d="M597,448 L710,455 L710,548 L597,548Z" fill="url(#cg)" stroke="#E8B99D" stroke-width="1" stroke-opacity="0.4"/><rect x="440" y="540" width="78" height="75" fill="url(#cg)" stroke="#E8B99D" stroke-width="1" stroke-opacity="0.4"/><rect x="518" y="540" width="76" height="75" fill="url(#cg)" stroke="#E8B99D" stroke-width="1" stroke-opacity="0.4"/><rect x="594" y="540" width="86" height="75" fill="url(#cg)" stroke="#E8B99D" stroke-width="1" stroke-opacity="0.4"/><rect x="440" y="615" width="78" height="79" fill="url(#cg)" stroke="#E8B99D" stroke-width="1" stroke-opacity="0.4"/><rect x="518" y="615" width="76" height="79" fill="url(#cg)" stroke="#E8B99D" stroke-width="1" stroke-opacity="0.4"/><rect x="594" y="615" width="86" height="79" fill="url(#cg)" stroke="#E8B99D" stroke-width="1" stroke-opacity="0.4"/><rect x="440" y="694" width="77" height="88" fill="url(#cg)" stroke="#E8B99D" stroke-width="1" stroke-opacity="0.4"/><rect x="517" y="694" width="63" height="88" fill="url(#cg)" stroke="#E8B99D" stroke-width="1" stroke-opacity="0.4"/><rect x="580" y="694" width="100" height="88" fill="url(#cg)" stroke="#E8B99D" stroke-width="1" stroke-opacity="0.4"/><rect x="440" y="782" width="71" height="38" fill="url(#cg)" stroke="#E8B99D" stroke-width="1" stroke-opacity="0.4"/><rect x="511" y="782" width="63" height="38" fill="url(#cg)" stroke="#E8B99D" stroke-width="1" stroke-opacity="0.4"/><rect x="574" y="782" width="106" height="38" fill="url(#cg)" stroke="#E8B99D" stroke-width="1" stroke-opacity="0.4"/><rect x="440" y="820" width="108" height="65" fill="url(#cg)" stroke="#E8B99D" stroke-width="1" stroke-opacity="0.4"/><rect x="548" y="820" width="132" height="65" fill="url(#cg)" stroke="#E8B99D" stroke-width="1" stroke-opacity="0.4"/>
<path d="M453,546 C451.7,532.7 451.2,527.7 450,520 C448.8,512.3 447.5,506.7 446,500 C444.5,493.3 443,488.3 441,480 C439,471.7 436.3,460 434,450 C431.7,440 428.8,428.3 427,420 C425.2,411.7 424.3,406.7 423.5,400 C422.7,393.3 422.1,386.3 422,380 C421.9,373.7 422.3,367.3 423,362 C423.7,356.7 424.3,352.5 426,348 C427.7,343.5 429.8,339.3 433,335 C436.2,330.7 440.5,326.2 445,322 C449.5,317.8 454.2,313.8 460,310 C465.8,306.2 475,301.6 480,299 C485,296.4 485,296.3 490,294.5 C495,292.7 503.3,289.8 510,288 C516.7,286.2 523.3,284.6 530,283.5 C536.7,282.4 543.3,281.8 550,281.2 C556.7,280.6 563.3,280.5 570,280.2 C576.7,279.9 583,279.8 590,279.6 C597,279.4 607,279.4 612,279 C617,278.6 617.5,278.6 620,277.5 C622.5,276.4 624.6,275.1 627,272.5 C629.4,269.9 632.2,265.9 634.4,262 C636.6,258.1 638.8,252.8 640.4,248.8 C642,244.8 643.1,241.5 644,238 C644.9,234.5 643.2,229.7 646,228 C648.8,226.3 658.3,224.7 661,228 C663.7,231.3 662.3,242.3 662,247.6 C661.7,252.9 660,255.4 659,259.6 C658,263.8 656.8,268.7 656,272.8 C655.2,276.9 654.3,280.7 654.5,284 C654.7,287.3 655.4,290 657,292.5 C658.6,295 661.6,296.1 664.4,299.2 C667.2,302.3 670.8,306.8 674,311.2 C677.2,315.6 681.1,321.1 683.6,325.6 C686.1,330.1 687.4,333.9 689,338 C690.6,342.1 692,344.7 693,350 C694,355.3 694.6,363.3 695,370 C695.4,376.7 695.7,383.3 695.5,390 C695.3,396.7 694.7,403.3 694,410 C693.3,416.7 692.5,423.3 691.5,430 C690.5,436.7 689.2,443.3 688,450 C686.8,456.7 685.3,463.3 684,470 C682.7,476.7 681.4,483.3 680,490 C678.6,496.7 677,503.3 675.5,510 C674,516.7 672.9,522.1 671,530 C669.1,537.9 667,547.2 664.4,557.2 C661.8,567.2 658.7,578.7 655.6,590 C652.5,601.3 649.8,611.7 646,625 C642.2,638.3 637.3,655.8 633,670 C628.7,684.2 624,697.4 620,710 C616,722.6 612.2,734.4 609,745.4 C605.8,756.4 603,767.6 600.8,775.8 C598.6,784 597.7,787.5 595.7,794.5 C593.7,801.5 591.5,810.1 589,818 C586.5,825.9 583.9,833 580.5,841.8 C577.1,850.6 572,864.2 568.6,870.6 C565.2,877 565.6,878.4 560,880 C554.4,881.6 540.3,881.3 535,880 C529.7,878.7 532,877 528,872.3 C524,867.6 516.4,859 511,852 C505.6,845 500,837.3 495.8,830 C491.6,822.7 488.5,815.9 485.7,808 C482.9,800.1 481,791.6 479,782.6 C477,773.6 475.4,764.2 473.8,753.8 C472.2,743.4 470.9,732.3 469.6,720 C468.3,707.7 467.3,693.3 466,680 C464.7,666.7 463.3,653.3 462,640 C460.7,626.7 459.5,615.7 458,600 C456.5,584.3 454.3,559.3 453,546Z" fill="none" stroke="#E6B496" stroke-width="11" filter="url(#bl)"/>
</g>
<ellipse cx="226.2" cy="586.5" rx="9.2" ry="10" fill="#E7B597"/><ellipse cx="279" cy="595.8" rx="6" ry="7" fill="#E7B597"/><ellipse cx="329.5" cy="595.8" rx="10.5" ry="10.5" fill="#E7B597"/><ellipse cx="437.5" cy="599.8" rx="9.5" ry="11" fill="#E7B597"/><ellipse cx="226.5" cy="642" rx="6.5" ry="6.8" fill="#E7B597"/><ellipse cx="278.5" cy="647" rx="7" ry="5.8" fill="#E7B597"/><ellipse cx="322.5" cy="649.6" rx="6.2" ry="6.8" fill="#E7B597"/><ellipse cx="224.3" cy="680.3" rx="7" ry="8" fill="#E7B597"/><ellipse cx="274.5" cy="685.3" rx="7.7" ry="7.7" fill="#E7B597"/><ellipse cx="325.2" cy="688" rx="7.4" ry="8" fill="#E7B597"/><ellipse cx="383.6" cy="688" rx="7.2" ry="7.6" fill="#E7B597"/><ellipse cx="221" cy="720.6" rx="8" ry="8" fill="#E7B597"/><ellipse cx="272.4" cy="726.3" rx="7" ry="6.5" fill="#E7B597"/><ellipse cx="329.8" cy="727.5" rx="6.2" ry="6.9" fill="#E7B597"/><ellipse cx="380" cy="726.5" rx="7.4" ry="7.7" fill="#E7B597"/><ellipse cx="426.8" cy="725" rx="7" ry="6.2" fill="#E7B597"/><ellipse cx="424.6" cy="756.7" rx="6.2" ry="6.9" fill="#E7B597"/><ellipse cx="708.9" cy="592.2" rx="10" ry="9.4" fill="#E7B597"/><ellipse cx="776.2" cy="595.6" rx="7.2" ry="7.2" fill="#E7B597"/><ellipse cx="842.3" cy="595.3" rx="8.5" ry="8.5" fill="#E7B597"/><ellipse cx="702.6" cy="635.4" rx="5.2" ry="5.2" fill="#E7B597"/><ellipse cx="770.8" cy="633.8" rx="5.2" ry="5.2" fill="#E7B597"/><ellipse cx="834.5" cy="632.5" rx="5.2" ry="5.5" fill="#E7B597"/><ellipse cx="697.4" cy="664.5" rx="6.8" ry="5.9" fill="#E7B597"/><ellipse cx="766" cy="663.2" rx="6.2" ry="6.8" fill="#E7B597"/><ellipse cx="825.9" cy="668.4" rx="9.1" ry="10.4" fill="#E7B597"/><ellipse cx="637.6" cy="698.3" rx="5.2" ry="5.2" fill="#E7B597"/><ellipse cx="704.2" cy="694.7" rx="5.7" ry="5.2" fill="#E7B597"/><ellipse cx="764.3" cy="695.2" rx="5.2" ry="5.5" fill="#E7B597"/><ellipse cx="818.1" cy="699" rx="5.2" ry="5.5" fill="#E7B597"/><ellipse cx="632.7" cy="736" rx="5.9" ry="4.9" fill="#E7B597"/><ellipse cx="698.5" cy="725.3" rx="6.8" ry="6.8" fill="#E7B597"/><ellipse cx="763.7" cy="723" rx="6" ry="7" fill="#E7B597"/><ellipse cx="815.7" cy="725.3" rx="6.5" ry="6.8" fill="#E7B597"/><ellipse cx="629.5" cy="776.3" rx="6.5" ry="5.9" fill="#E7B597"/><ellipse cx="697.2" cy="772.2" rx="9.9" ry="11" fill="#E7B597"/><ellipse cx="760.9" cy="772.4" rx="9.9" ry="11" fill="#E7B597"/><ellipse cx="465.7" cy="347" rx="9.5" ry="11" fill="#E7B597"/><ellipse cx="638" cy="330" rx="9.6" ry="9.6" fill="#E7B597"/><ellipse cx="624.8" cy="590.8" rx="9.9" ry="11" fill="#E7B597"/><ellipse cx="495" cy="660.1" rx="10.5" ry="10.5" fill="#E7B597"/><ellipse cx="556.6" cy="647.6" rx="9.7" ry="11" fill="#E7B597"/><ellipse cx="611.6" cy="652.8" rx="10.5" ry="11" fill="#E7B597"/><ellipse cx="497.2" cy="742" rx="9.9" ry="11" fill="#E7B597"/><ellipse cx="550.7" cy="738.6" rx="9.9" ry="11" fill="#E7B597"/><ellipse cx="593.4" cy="738.6" rx="11" ry="11" fill="#E7B597"/><ellipse cx="540.7" cy="805.5" rx="9.7" ry="11" fill="#E7B597"/><ellipse cx="533" cy="842.7" rx="10.2" ry="11" fill="#E7B597"/>
</g>
<ellipse cx="460.1" cy="411.5" rx="10" ry="11.2" fill="#6E8193"/><ellipse cx="562" cy="410.5" rx="10.5" ry="11" fill="#6E8193"/><ellipse cx="635" cy="396.3" rx="10" ry="11.2" fill="#6E8193"/><ellipse cx="480" cy="509.7" rx="10.8" ry="10.8" fill="#6E8193"/><ellipse cx="543" cy="495.8" rx="11" ry="11.2" fill="#6E8193"/><ellipse cx="635" cy="510.3" rx="10" ry="11.2" fill="#6E8193"/><ellipse cx="563.2" cy="572.2" rx="11.2" ry="11.2" fill="#6E8193"/><ellipse cx="492" cy="590.8" rx="10" ry="11.2" fill="#6E8193"/><ellipse cx="386.8" cy="596" rx="10" ry="11.2" fill="#6E8193"/><ellipse cx="384.8" cy="653" rx="7" ry="6" fill="#6E8193"/><ellipse cx="432.4" cy="653.4" rx="6.8" ry="6.2" fill="#6E8193"/><ellipse cx="430.6" cy="688" rx="8" ry="7" fill="#6E8193"/>
<use href="#virus" transform="translate(197 238.8) scale(47.4)"/><use href="#virus" transform="translate(669.1 169.3) scale(12.5)"/><use href="#virus" transform="translate(714.5 217) scale(12.5)"/><use href="#virus" transform="translate(658.4 235.4) scale(13.3)"/><use href="#virus" transform="translate(632 307.4) scale(15.6)"/><use href="#virus" transform="translate(563 322.5) scale(17.5)"/>
<g fill="none" stroke="#2F4B67" stroke-width="1.25">
<path d="M192.4,312.2 C183.2,391.3 204.4,550.2 290,604"/>
<path d="M279.4,577.8 L290,604 L271.8,610.4"/>
<path d="M647,268 L902.5,168.5"/>
<path d="M657,431.6 L1002.5,540"/>
<path d="M418.8,698.4 L219,894.6"/>
</g>
<text x="140.2" y="123" textLength="216.5">VPH invade</text><text x="140" y="172.8" textLength="114.6">la piel</text><text x="913.7" y="127.6" textLength="306.1">Copias virales se</text><text x="913.7" y="177.4" textLength="256.3">expulsan para</text><text x="913.7" y="227" textLength="306.3">contagiar a otros</text><text x="952.1" y="581.2" textLength="325.3">VPH se multiplica</text><text x="952.1" y="630.3" textLength="309.4">y forma verrugas</text><text x="51.9" y="932" textLength="337.1">El ADN de ingresa</text><text x="52.9" y="980.5" textLength="402">a las celulas cutaneos</text>
</svg>
</body></html>
